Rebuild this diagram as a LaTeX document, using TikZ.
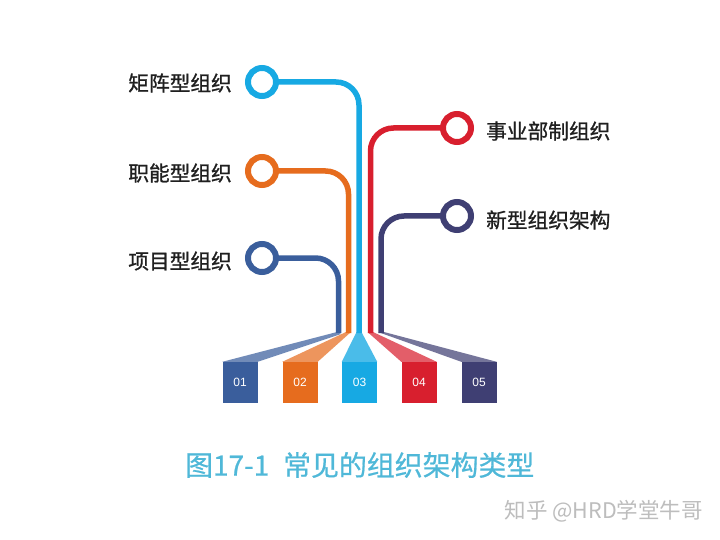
\documentclass[tikz,border=0pt]{standalone}
\usepackage{fontspec}
\usepackage{tikz}
\usetikzlibrary{positioning}
\newfontfamily\cjk{Noto Sans CJK SC}
\newfontfamily\cjkmid[FakeBold=1]{Noto Sans CJK SC}
\newfontfamily\cjkcap[FakeBold=0.6]{Noto Sans CJK SC}
\setsansfont{Liberation Sans}
\definecolor{typeblue}{HTML}{3A5E9C}
\definecolor{typeorange}{HTML}{E66C1E}
\definecolor{typecyan}{HTML}{17A9E3}
\definecolor{typered}{HTML}{D81F2E}
\definecolor{typenavy}{HTML}{3F3F73}
\definecolor{captioncyan}{HTML}{4FB8D8}
\definecolor{markgray}{HTML}{BDBDBD}
\tikzset{
    ring/.style = {circle, draw=#1, fill=white, line width=6pt, minimum size=28pt, inner sep=0pt},
    numbox/.style = {fill=#1, text=white, minimum width=35pt, minimum height=41pt, inner sep=0pt, font=\sffamily\fontsize{12}{12}\selectfont},
    link/.style = {draw=#1, line width=5.5pt, rounded corners=23pt},
    typelabel/.style = {font=\cjkmid\fontsize{20.7}{20.7}\selectfont, text=black!88, inner sep=0pt}
}

\begin{document}
\begin{tikzpicture}[x=1pt, y=-1pt]
    \useasboundingbox [fill=white] (0,0) rectangle (720,540);

    % boxes along the bottom
    \node [numbox=typeblue] (boxa) at (240,382.5) {01};
    \node [numbox=typeorange] (boxb) at (300,382.5) {02};
    \node [numbox=typecyan] (boxc) at (359.5,382.5) {03};
    \node [numbox=typered] (boxd) at (419,382.5) {04};
    \node [numbox=typenavy] (boxe) at (479,382.5) {05};

    % pale funnels from the boxes up to the lines
    \fill [typeblue!72] (boxa.north west) -- (337,332) -- (341,334) -- (boxa.north east) -- cycle;
    \fill [typeorange!72] (boxb.north west) -- (346,332) -- (351,332) -- (boxb.north east) -- cycle;
    \fill [typecyan!78] (boxc.north west) -- (356.5,332) -- (361.5,332) -- (boxc.north east) -- cycle;
    \fill [typered!72] (boxd.north west) -- (367.5,332) -- (373,332) -- (boxd.north east) -- cycle;
    \fill [typenavy!72] (boxe.north west) -- (378,332) -- (384,332) -- (boxe.north east) -- cycle;

    \coordinate (tipa) at (338.5,333);
    \coordinate (tipb) at (348.5,333);
    \coordinate (tipc) at (359,333);
    \coordinate (tipd) at (370.5,333);
    \coordinate (tipe) at (381,333);

    % rings, drawn after their lines
    \path [link=typecyan] (262,82) coordinate (starta) -| (tipc);
    \path [link=typeorange] (262,171) coordinate (startb) -| (tipb);
    \path [link=typeblue] (262,258) coordinate (startc) -| (tipa);
    \path [link=typered] (457,128) coordinate (startd) -| (tipd);
    \path [link=typenavy] (457,216) coordinate (starte) -| (tipe);

    \node [ring=typecyan] (ringa) at (starta) {};
    \node [ring=typeorange] (ringb) at (startb) {};
    \node [ring=typeblue] (ringc) at (startc) {};
    \node [ring=typered] (ringd) at (startd) {};
    \node [ring=typenavy] (ringe) at (starte) {};

    \node [typelabel, anchor=east] (labela) at (232,83) {矩阵型组织};
    \node [typelabel, anchor=east] (labelb) at (232,173) {职能型组织};
    \node [typelabel, anchor=east] (labelc) at (232,261) {项目型组织};
    \node [typelabel, anchor=west] (labeld) at (486,131) {事业部制组织};
    \node [typelabel, anchor=west] (labele) at (486,220) {新型组织架构};

    \node [anchor=west, inner sep=0pt, text=captioncyan, font=\cjkcap\fontsize{27.9}{27.9}\selectfont] (caption) at (185,465) {图17-1\hspace{14pt}常见的组织架构类型};
    \node [anchor=east, inner sep=0pt, text=markgray, font=\cjk\fontsize{21.5}{21.5}\selectfont] (mark) at (703,511) {知乎 @HRD学堂牛哥};
\end{tikzpicture}
\end{document}
